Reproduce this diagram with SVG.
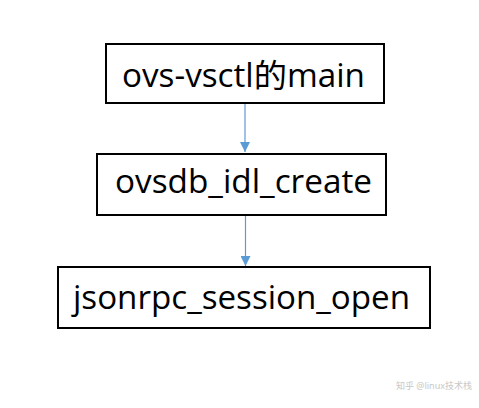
<svg xmlns="http://www.w3.org/2000/svg" width="479" height="408" viewBox="0 0 479 408">
<style>
.box{fill:#fff;stroke:#000;stroke-width:2}
.t{font-family:"Open Sans","Liberation Sans","Noto Sans CJK SC",sans-serif;font-size:32px;fill:#000}
.c{stroke:#5b9bd5;stroke-width:1.2;fill:none}
.wm{font-family:"Noto Sans","Noto Sans CJK SC",sans-serif;font-size:9px;fill:#c8c8c8}
</style>
<defs>
<marker id="ah" viewBox="0 0 10 10" refX="10" refY="5" markerWidth="10" markerHeight="10" markerUnits="userSpaceOnUse" orient="auto">
<path d="M0,0 L10,5 L0,10 Z" fill="#5b9bd5"/>
</marker>
</defs>
<rect width="479" height="408" fill="#fff"/>
<g id="connectors">
<line class="c" x1="245" y1="104" x2="245" y2="152" marker-end="url(#ah)"/>
<line class="c" x1="245.5" y1="216" x2="245.5" y2="266" marker-end="url(#ah)"/>
</g>
<g id="n1">
<rect class="box" x="106" y="44" width="278" height="59"/>
<text class="t" x="122" y="87" textLength="243" lengthAdjust="spacingAndGlyphs">ovs-vsctl的main</text>
</g>
<g id="n2">
<rect class="box" x="97" y="154" width="289" height="61"/>
<text class="t" x="115" y="193" textLength="257" lengthAdjust="spacingAndGlyphs">ovsdb_idl_create</text>
</g>
<g id="n3">
<rect class="box" x="58" y="267" width="372" height="61"/>
<text class="t" x="73" y="309" textLength="337" lengthAdjust="spacingAndGlyphs">jsonrpc_session_open</text>
</g>
<text class="wm" x="396" y="389">知乎 @linux技术栈</text>
</svg>
